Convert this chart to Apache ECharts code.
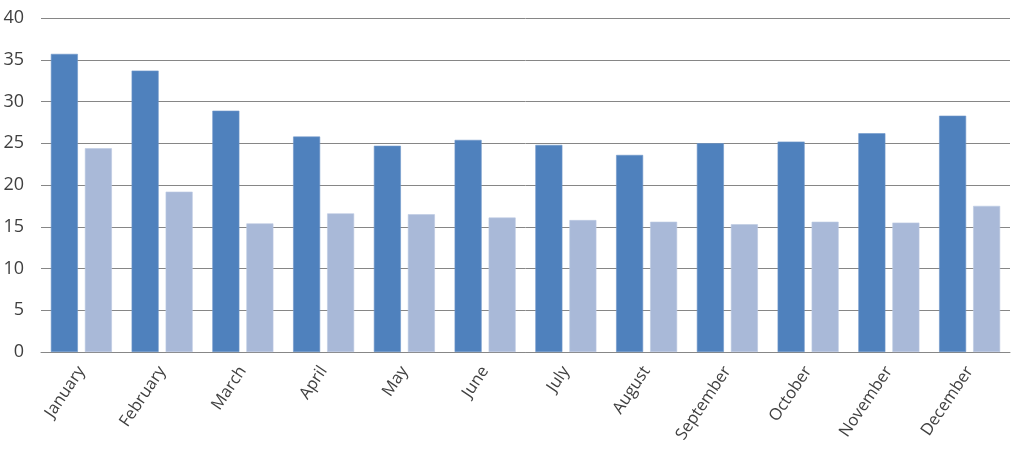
<!DOCTYPE html>
<html>
<head>
<meta charset="utf-8">
<script src="https://cdn.jsdelivr.net/npm/echarts@6/dist/echarts.min.js"></script>
<style>
  html, body { margin: 0; padding: 0; background: #fff; }
</style>
</head>
<body>
<div id="mychart" style="width: 1024px; height: 455px;"></div>
<script>
const months = ['January', 'February', 'March', 'April', 'May', 'June', 'July', 'August', 'September', 'October', 'November', 'December'];
const seriesA = [35.7, 33.7, 28.9, 25.8, 24.7, 25.4, 24.8, 23.6, 25.0, 25.2, 26.2, 28.3];
const seriesB = [24.4, 19.2, 15.4, 16.6, 16.5, 16.1, 15.8, 15.6, 15.3, 15.6, 15.5, 17.5];

let myChart = echarts.init(document.getElementById('mychart'))
const colors = ['#4F81BD', '#A9B9D8'];
myChart.setOption({
  animation: false,
  color: colors,
  grid: {
    left: 41,
    right: 14,
    top: 18,
    bottom: 103
  },
  xAxis: {
    type: 'category',
    data: months,
    axisTick: { show: false },
    axisLine: { lineStyle: { color: '#878787', width: 1 } },
    axisLabel: {
      rotate: 56,
      margin: 16,
      color: '#404040',
      fontFamily: 'Open Sans',
      fontSize: 16.5
    }
  },
  yAxis: {
    type: 'value',
    min: 0,
    max: 40,
    interval: 5,
    axisLine: { show: false },
    axisTick: { show: false },
    axisLabel: {
      margin: 17,
      color: '#404040',
      fontFamily: 'Open Sans',
      fontSize: 18
    },
    splitLine: { lineStyle: { color: '#868686', width: 1 } }
  },
  series: [
    {
      type: 'bar',
      data: seriesA,
      barWidth: 27,
      barGap: '26%',
      itemStyle: { borderColor: '#6F97C9', borderWidth: 0.6 }
    },
    {
      type: 'bar',
      data: seriesB,
      barWidth: 27,
      itemStyle: { borderColor: '#BCC9E2', borderWidth: 0.6 }
    }
  ]
})
</script>
</body>
</html>
